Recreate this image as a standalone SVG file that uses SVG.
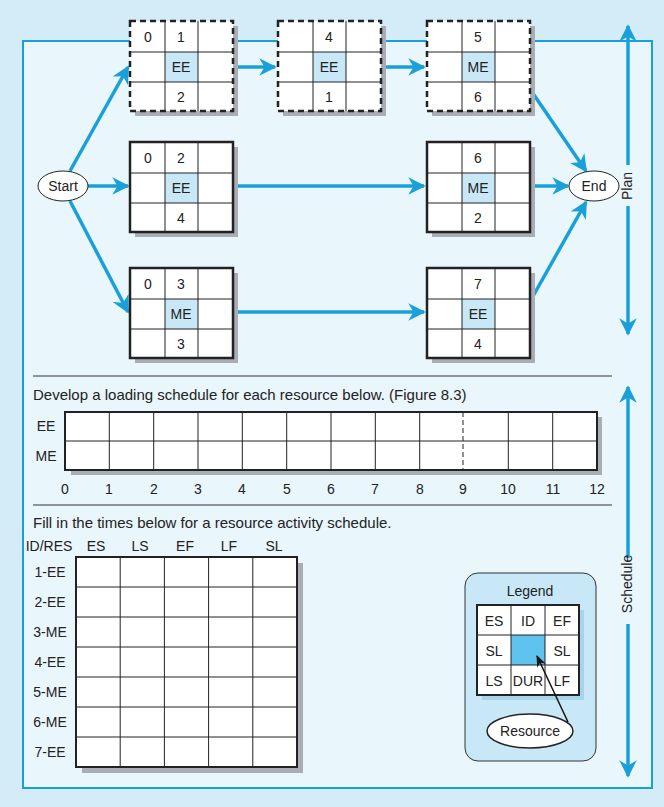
<svg xmlns="http://www.w3.org/2000/svg" width="664" height="807" viewBox="0 0 664 807">
<style>
text{font-family:"Liberation Sans",Arial,sans-serif;font-size:14px;fill:#222}
.c{text-anchor:middle}
.l{font-size:15px}
.g{stroke:#222;stroke-width:1;fill:none}
.b{fill:#fff;stroke:#222;stroke-width:2.5}
.d{stroke-dasharray:6 4}
.sh{fill:#a8aeb3}
.hl{fill:#c9e8f7}
.con{stroke:#1aa0d8;stroke-width:3.5;fill:none;marker-end:url(#a)}
</style>
<defs>
<marker id="a" viewBox="0 0 10 10" refX="9" refY="5" markerWidth="5" markerHeight="5" orient="auto" markerUnits="strokeWidth"><path d="M0,0L10,5L0,10L3,5z" fill="#1aa0d8"/></marker>
<marker id="k" viewBox="0 0 10 10" refX="9" refY="5" markerWidth="8" markerHeight="8" orient="auto"><path d="M0,1L10,5L0,9L3,5z" fill="#111"/></marker>
</defs>
<rect width="664" height="807" fill="#d3ecf8"/>
<rect x="23" y="41" width="629" height="747" fill="#e9f6fc" stroke="#1aa0d8" stroke-width="2"/>

<g id="connectors">
<path class="con" d="M70,171L128,67"/>
<path class="con" d="M88,186L128,186"/>
<path class="con" d="M70,201L128,312"/>
<path class="con" d="M236,67L275,67"/>
<path class="con" d="M384,67L424,67"/>
<path class="con" d="M237,186L424,186"/>
<path class="con" d="M237,312L424,312"/>
<path class="con" d="M532,92L586,171"/>
<path class="con" d="M534,186L568,186"/>
<path class="con" d="M532,298L586,202"/>
</g>

<g id="start"><ellipse cx="63" cy="186" rx="25" ry="15" fill="#fff" stroke="#222"/><text class="c" x="63" y="191">Start</text></g>
<g id="end"><ellipse cx="594" cy="186" rx="25" ry="15" fill="#fff" stroke="#222"/><text class="c" x="594" y="191">End</text></g>

<g id="n1" transform="translate(130,21)"><rect class="sh" x="5" y="5" width="103" height="90"/><rect class="b d" width="103" height="90"/><rect class="hl" x="35" y="31" width="33" height="30"/><path class="g" d="M35,0V90M68,0V90M0,31H103M0,61H103"/><text class="c" x="18" y="21">0</text><text class="c" x="51" y="21">1</text><text class="c" x="51" y="51">EE</text><text class="c" x="51" y="81">2</text></g>
<g id="n4" transform="translate(278,21)"><rect class="sh" x="5" y="5" width="103" height="90"/><rect class="b d" width="103" height="90"/><rect class="hl" x="35" y="31" width="33" height="30"/><path class="g" d="M35,0V90M68,0V90M0,31H103M0,61H103"/><text class="c" x="51" y="21">4</text><text class="c" x="51" y="51">EE</text><text class="c" x="51" y="81">1</text></g>
<g id="n5" transform="translate(427,21)"><rect class="sh" x="5" y="5" width="103" height="90"/><rect class="b d" width="103" height="90"/><rect class="hl" x="35" y="31" width="33" height="30"/><path class="g" d="M35,0V90M68,0V90M0,31H103M0,61H103"/><text class="c" x="51" y="21">5</text><text class="c" x="51" y="51">ME</text><text class="c" x="51" y="81">6</text></g>
<g id="n2" transform="translate(130,142)"><rect class="sh" x="5" y="5" width="103" height="90"/><rect class="b" width="103" height="90"/><rect class="hl" x="35" y="31" width="33" height="30"/><path class="g" d="M35,0V90M68,0V90M0,31H103M0,61H103"/><text class="c" x="18" y="21">0</text><text class="c" x="51" y="21">2</text><text class="c" x="51" y="51">EE</text><text class="c" x="51" y="81">4</text></g>
<g id="n6" transform="translate(427,142)"><rect class="sh" x="5" y="5" width="103" height="90"/><rect class="b" width="103" height="90"/><rect class="hl" x="35" y="31" width="33" height="30"/><path class="g" d="M35,0V90M68,0V90M0,31H103M0,61H103"/><text class="c" x="51" y="21">6</text><text class="c" x="51" y="51">ME</text><text class="c" x="51" y="81">2</text></g>
<g id="n3" transform="translate(130,268)"><rect class="sh" x="5" y="5" width="103" height="90"/><rect class="b" width="103" height="90"/><rect class="hl" x="35" y="31" width="33" height="30"/><path class="g" d="M35,0V90M68,0V90M0,31H103M0,61H103"/><text class="c" x="18" y="21">0</text><text class="c" x="51" y="21">3</text><text class="c" x="51" y="51">ME</text><text class="c" x="51" y="81">3</text></g>
<g id="n7" transform="translate(427,268)"><rect class="sh" x="5" y="5" width="103" height="90"/><rect class="b" width="103" height="90"/><rect class="hl" x="35" y="31" width="33" height="30"/><path class="g" d="M35,0V90M68,0V90M0,31H103M0,61H103"/><text class="c" x="51" y="21">7</text><text class="c" x="51" y="51">EE</text><text class="c" x="51" y="81">4</text></g>

<g id="plan">
<path class="con" d="M628,165V26"/>
<text class="c" transform="translate(632,186) rotate(-90)">Plan</text>
<path class="con" d="M628,206V334"/>
</g>
<g id="schedule">
<path class="con" d="M628,558V387"/>
<text class="c" transform="translate(632,584) rotate(-90)">Schedule</text>
<path class="con" d="M628,624V776"/>
</g>

<path d="M33,376H612M33,505H612" stroke="#333" stroke-width="1"/>

<g id="loading">
<text class="l" x="33" y="400">Develop a loading schedule for each resource below. (Figure 8.3)</text>
<text class="c" x="46" y="431">EE</text><text class="c" x="46" y="461">ME</text>
<rect x="71" y="417" width="531" height="58" fill="#a8aeb3"/>
<rect x="65" y="412" width="532" height="58" fill="#fff" stroke="#222" stroke-width="2"/>
<path class="g" d="M65,441H597M109.3,412V470M153.7,412V470M198,412V470M242.3,412V470M286.7,412V470M331,412V470M375.3,412V470M419.7,412V470M508.3,412V470M552.7,412V470"/>
<path class="g" d="M463,412V470" stroke-dasharray="5 3"/>
<text class="c" x="65" y="494">0</text><text class="c" x="109" y="494">1</text><text class="c" x="154" y="494">2</text><text class="c" x="198" y="494">3</text><text class="c" x="242" y="494">4</text><text class="c" x="287" y="494">5</text><text class="c" x="331" y="494">6</text><text class="c" x="375" y="494">7</text><text class="c" x="420" y="494">8</text><text class="c" x="463" y="494">9</text><text class="c" x="508" y="494">10</text><text class="c" x="553" y="494">11</text><text class="c" x="597" y="494">12</text>
</g>

<g id="activity">
<text class="l" x="33" y="528">Fill in the times below for a resource activity schedule.</text>
<text class="c" x="49" y="551">ID/RES</text><text class="c" x="96" y="551">ES</text><text class="c" x="140" y="551">LS</text><text class="c" x="185" y="551">EF</text><text class="c" x="229" y="551">LF</text><text class="c" x="274" y="551">SL</text>
<rect x="82" y="563" width="221" height="210" fill="#a8aeb3"/>
<rect x="76" y="557" width="221" height="210" fill="#fff" stroke="#222" stroke-width="2"/>
<path class="g" d="M120.2,557V767M164.4,557V767M208.6,557V767M252.8,557V767M76,587H297M76,617H297M76,647H297M76,677H297M76,707H297M76,737H297"/>
<text class="c" x="50" y="577">1-EE</text><text class="c" x="50" y="607">2-EE</text><text class="c" x="50" y="637">3-ME</text><text class="c" x="50" y="667">4-EE</text><text class="c" x="50" y="697">5-ME</text><text class="c" x="50" y="727">6-ME</text><text class="c" x="50" y="757">7-EE</text>
</g>

<g id="legend">
<rect x="465" y="573" width="131" height="188" rx="13" fill="#c9e8f7" stroke="#333"/>
<text class="c" x="530" y="596">Legend</text>
<rect x="482" y="610" width="102" height="90" fill="#a8d4ea"/>
<rect x="477" y="605" width="102" height="90" fill="#fff" stroke="#222" stroke-width="2"/>
<rect x="511" y="635" width="34" height="30" fill="#5ec4ef"/>
<path class="g" d="M511,605V695M545,605V695M477,635H579M477,665H579"/>
<text class="c" x="494" y="626">ES</text><text class="c" x="528" y="626">ID</text><text class="c" x="562" y="626">EF</text>
<text class="c" x="494" y="656">SL</text><text class="c" x="562" y="656">SL</text>
<text class="c" x="494" y="686">LS</text><text class="c" x="528" y="686">DUR</text><text class="c" x="562" y="686">LF</text>
<ellipse cx="530" cy="731" rx="43" ry="17" fill="#fff" stroke="#222" stroke-width="1.5"/>
<text class="c" x="530" y="736">Resource</text>
<path d="M568,722L537,656" stroke="#111" stroke-width="1.5" fill="none" marker-end="url(#k)"/>
</g>
</svg>
